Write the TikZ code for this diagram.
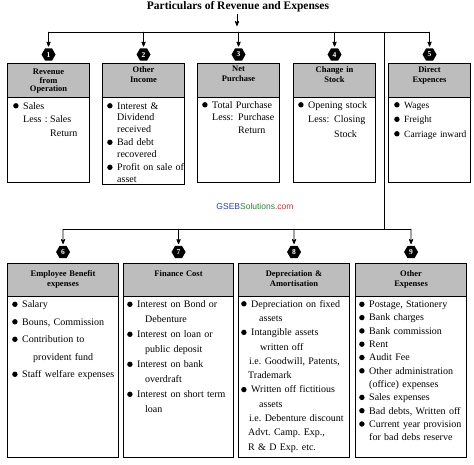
\documentclass[tikz,border=0pt]{standalone}
\usepackage{fontspec}
\setmainfont{Liberation Serif}
\newfontfamily\wmfont{Liberation Sans}
\usetikzlibrary{arrows,shapes.geometric,positioning}

\definecolor{wmblue}{RGB}{40,60,190}
\definecolor{wmgreen}{RGB}{40,130,50}
\definecolor{wmred}{RGB}{210,40,40}

\newcommand{\blt}{\makebox[10pt][l]{\tikz[baseline=-3.3pt]\fill (2.8pt,0) circle (2.7pt);}}
\frenchspacing

\begin{document}
\begin{tikzpicture}[x=1pt,y=-1pt,>=stealth',line width=0.8pt,
    card/.style={draw,line width=1.1pt,inner sep=0pt,anchor=north west},
    bar/.style={draw,line width=1.1pt,fill=black!26,inner sep=0pt,anchor=north west},
    head/.style={inner sep=0pt,text width=104pt,align=center,
                 font=\bfseries\fontsize{8.5}{10}\selectfont},
    body/.style={anchor=base west,inner sep=0pt,text width=104pt,align=left,
                 font=\fontsize{10}{#1}\selectfont},
    badge/.style={regular polygon,regular polygon sides=6,fill=black,text=white,
                  inner sep=0pt,minimum size=14pt,font=\bfseries\fontsize{7.5}{7.5}\selectfont}]

  \useasboundingbox (0,0) rectangle (474,465);

  \node[font=\bfseries\fontsize{11.5}{12}\selectfont,inner sep=1pt] (title) at (238,7)
    {Particulars of Revenue and Expenses};
  \coordinate (tgap) at (237,26);
  \coordinate (toprow) at (237,32);
  \coordinate (botrow) at (384,229);

  % upper row
  \node[card,minimum width=82pt,minimum height=119pt] (rev) at (7,63) {};
  \node[card,minimum width=82pt,minimum height=121pt] (inc) at (102,63) {};
  \node[card,minimum width=82pt,minimum height=119pt] (pur) at (197,63) {};
  \node[card,minimum width=82pt,minimum height=119pt] (stk) at (293,63) {};
  \node[card,minimum width=82pt,minimum height=119pt] (dir) at (388,63) {};

  \node[bar,minimum width=82pt,minimum height=34pt] (revbar) at (rev.north west) {};
  \node[bar,minimum width=82pt,minimum height=34pt] (incbar) at (inc.north west) {};
  \node[bar,minimum width=82pt,minimum height=34pt] (purbar) at (pur.north west) {};
  \node[bar,minimum width=82pt,minimum height=34pt] (stkbar) at (stk.north west) {};
  \node[bar,minimum width=82pt,minimum height=34pt] (dirbar) at (dir.north west) {};

  \node[head,font=\bfseries\fontsize{8.5}{8.5}\selectfont,below=6pt of revbar.north] (revhead)
    {Revenue\\from\\Operation};
  \node[head,below=3pt of incbar.north] (inchead) {Other\\Income};
  \node[head,below=3pt of purbar.north] (purhead) {Net\\Purchase};
  \node[head,below=3pt of stkbar.north] (stkhead) {Change in\\Stock};
  \node[head,below=3pt of dirbar.north] (dirhead) {Direct\\Expences};

  \node[body=13.5] (revlist) at ([xshift=6pt,yshift=-11pt]revbar.south west)
    {\blt Sales\\
     \hspace*{10pt}\makebox[27pt][l]{Less :}Sales\\
     \hspace*{37pt}Return};
  \node[body=11.5] (inclist) at ([xshift=5pt,yshift=-11pt]incbar.south west)
    {\blt Interest \&\\
     \hspace*{10pt}Dividend\\
     \hspace*{10pt}received\\[2pt]
     \blt Bad debt\\
     \hspace*{10pt}recovered\\[2pt]
     \blt Profit on sale of\\
     \hspace*{10pt}asset};
  \node[body=12.5] (purlist) at ([xshift=5pt,yshift=-10pt]purbar.south west)
    {\blt Total Purchase\\
     \hspace*{10pt}\makebox[26pt][l]{Less:}Purchase\\
     \hspace*{36pt}Return};
  \node[body=14.5] (stklist) at ([xshift=5pt,yshift=-10pt]stkbar.south west)
    {\blt Opening stock\\
     \hspace*{10pt}\makebox[26pt][l]{Less:}Closing\\
     \hspace*{36pt}Stock};
  \node[body=14.5,font=\fontsize{9.5}{14.5}\selectfont] (dirlist)
    at ([xshift=6pt,yshift=-10pt]dirbar.south west)
    {\blt Wages\\
     \blt Freight\\
     \blt Carriage inward};

  \node[badge,above=2pt of rev] (n1) {1};
  \node[badge,above=2pt of inc] (n2) {2};
  \node[badge,above=2pt of pur] (n3) {3};
  \node[badge,above=2pt of stk] (n4) {4};
  \node[badge,above=2pt of dir] (n5) {5};

  % lower row
  \node[card,minimum width=111pt,minimum height=194pt] (emp) at (7,263) {};
  \node[card,minimum width=110pt,minimum height=194pt] (fin) at (123,263) {};
  \node[card,minimum width=111pt,minimum height=194pt] (dep) at (238,263) {};
  \node[card,minimum width=111pt,minimum height=194pt] (oth) at (355,263) {};

  \node[bar,minimum width=111pt,minimum height=33pt] (empbar) at (emp.north west) {};
  \node[bar,minimum width=110pt,minimum height=33pt] (finbar) at (fin.north west) {};
  \node[bar,minimum width=111pt,minimum height=33pt] (depbar) at (dep.north west) {};
  \node[bar,minimum width=111pt,minimum height=33pt] (othbar) at (oth.north west) {};

  \node[head,below=7pt of empbar.north] (emphead) {Employee Benefit\\expenses};
  \node[head,below=7pt of finbar.north] (finhead) {Finance Cost};
  \node[head,below=7pt of depbar.north] (dephead) {Depreciation \&\\Amortisation};
  \node[head,below=7pt of othbar.north] (othhead) {Other\\Expenses};

  \node[body=17.5] (emplist) at ([xshift=5pt,yshift=-10.5pt]empbar.south west)
    {\blt Salary\\
     \blt Bouns, Commission\\
     \blt Contribution to\\
     \hspace*{21pt}provident fund\\
     \blt Staff welfare expenses};
  \node[body=15] (finlist) at ([xshift=4pt,yshift=-10.5pt]finbar.south west)
    {\blt Interest on Bond or\\
     \hspace*{18pt}Debenture\\
     \blt Interest on loan or\\
     \hspace*{18pt}public deposit\\
     \blt Interest on bank\\
     \hspace*{18pt}overdraft\\
     \blt Interest on short term\\
     \hspace*{18pt}loan};
  \node[body=14.3] (deplist) at ([xshift=3pt,yshift=-10pt]depbar.south west)
    {\blt Depreciation on fixed\\
     \hspace*{18pt}assets\\
     \blt Intangible assets\\
     \hspace*{19pt}written off\\
     \hspace*{8pt}i.e. Goodwill, Patents,\\
     \hspace*{7pt}Trademark\\
     \blt Written off fictitious\\
     \hspace*{18pt}assets\\
     \hspace*{8pt}i.e. Debenture discount\\
     \hspace*{7pt}Advt. Camp. Exp.,\\
     \hspace*{7pt}R \& D Exp. etc.};
  \node[body=13.3] (othlist) at ([xshift=4pt,yshift=-10.5pt]othbar.south west)
    {\blt Postage, Stationery\\
     \blt Bank charges\\
     \blt Bank commission\\
     \blt Rent\\
     \blt Audit Fee\\
     \blt Other administration\\
     \hspace*{10pt}(office) expenses\\
     \blt Sales expenses\\
     \blt Bad debts, Written off\\
     \blt Current year provision\\
     \hspace*{10pt}for bad debs reserve};

  \node[badge,above=4.5pt of emp] (n6) {6};
  \node[badge,above=4.5pt of fin] (n7) {7};
  \node[badge,above=4.5pt of dep] (n8) {8};
  \node[badge,above=4.5pt of oth] (n9) {9};

  \node[font=\wmfont\fontsize{8.5}{9}\selectfont] (site) at (255,206)
    {\textcolor{wmblue}{GSEB}\textcolor{wmgreen}{Solutions}\textcolor{wmred}{.com}};

  % connectors
  \draw[->] (title.south -| tgap) -- (tgap);
  \draw (n1 |- toprow) -- (n5 |- toprow);
  \draw (n1 |- toprow -| botrow) -- (botrow);
  \draw (n6 |- botrow) -- (n9 |- botrow);
  \path[->,shorten >=1.5pt]
    (n1 |- toprow) edge (n1)
    (n2 |- toprow) edge (n2)
    (n3 |- toprow) edge (n3)
    (n4 |- toprow) edge (n4)
    (n5 |- toprow) edge (n5)
    (n6 |- botrow) edge (n6)
    (n7 |- botrow) edge (n7)
    (n8 |- botrow) edge (n8)
    (n9 |- botrow) edge (n9);
\end{tikzpicture}
\end{document}
